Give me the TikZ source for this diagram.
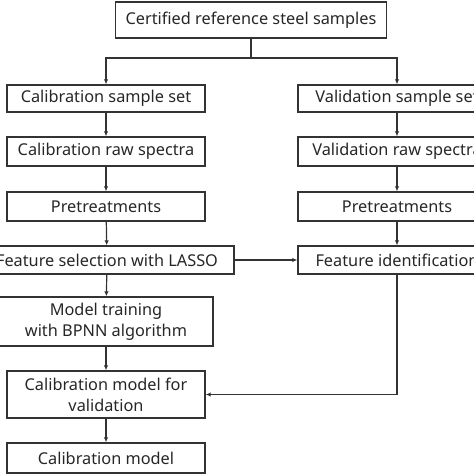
\documentclass[tikz,border=0pt]{standalone}
\usepackage{fontspec}
\setmainfont{Noto Sans}
\usetikzlibrary{arrows.meta}

\begin{document}
\begin{tikzpicture}[x=1pt, y=-1pt,
    stepbox/.style={draw=black!80, line width=1.4pt, rectangle, inner sep=0pt, align=center,
        text=black!85, font=\fontsize{16.3}{21}\selectfont},
    arr/.style={draw=black!80, line width=1.2pt, -{Latex[length=5pt,width=4.5pt]}}]
                    \clip (0,0) rectangle (474,474);
                    \node[stepbox, minimum width=271pt, minimum height=36pt] (cert) at (251, 20) {Certified reference steel samples};
                    \node[stepbox, minimum width=198pt, minimum height=27pt] (calset) at (106, 98.5) {Calibration sample set};
                    \node[stepbox, minimum width=198pt, minimum height=29pt] (calraw) at (106, 151.5) {Calibration raw spectra};
                    \node[stepbox, minimum width=198pt, minimum height=29pt] (calpre) at (106, 206.5) {Pretreatments};
                    \node[stepbox, minimum width=254pt, minimum height=28pt] (lasso) at (107, 260) {Feature selection with LASSO};
                    \node[stepbox, minimum width=214pt, minimum height=49pt] (bpnn) at (106, 321.5) {Model training\\with BPNN algorithm};
                    \node[stepbox, minimum width=198pt, minimum height=47pt] (calval) at (106, 394.5) {Calibration model for\\validation};
                    \node[stepbox, minimum width=198pt, minimum height=30pt] (calmod) at (106, 458) {Calibration model};
                    \node[stepbox, minimum width=198pt, minimum height=27pt] (valset) at (397, 98.5) {Validation sample set};
                    \node[stepbox, minimum width=198pt, minimum height=29pt] (valraw) at (397, 151.5) {Validation raw spectra};
                    \node[stepbox, minimum width=198pt, minimum height=29pt] (valpre) at (397, 206.5) {Pretreatments};
                    \node[stepbox, minimum width=198pt, minimum height=28pt] (featid) at (397, 260) {Feature identification};
                    \coordinate (split) at (251, 58);
                    \draw[draw=black!80, line width=1.2pt] (cert) -- (split);
                    \draw[arr] (split) -| (calset);
                    \draw[arr] (split) -| (valset);
                    \draw[arr] (calset) -- (calraw);
                    \draw[arr] (calraw) -- (calpre);
                    \draw[arr] (calpre) -- (lasso);
                    \draw[arr] (lasso) -- (bpnn);
                    \draw[arr] (bpnn) -- (calval);
                    \draw[arr] (calval) -- (calmod);
                    \draw[arr] (valset) -- (valraw);
                    \draw[arr] (valraw) -- (valpre);
                    \draw[arr] (valpre) -- (featid);
                    \draw[arr] (lasso) -- (featid);
                    \draw[arr] (featid) |- (calval);
                \end{tikzpicture}
\end{document}
